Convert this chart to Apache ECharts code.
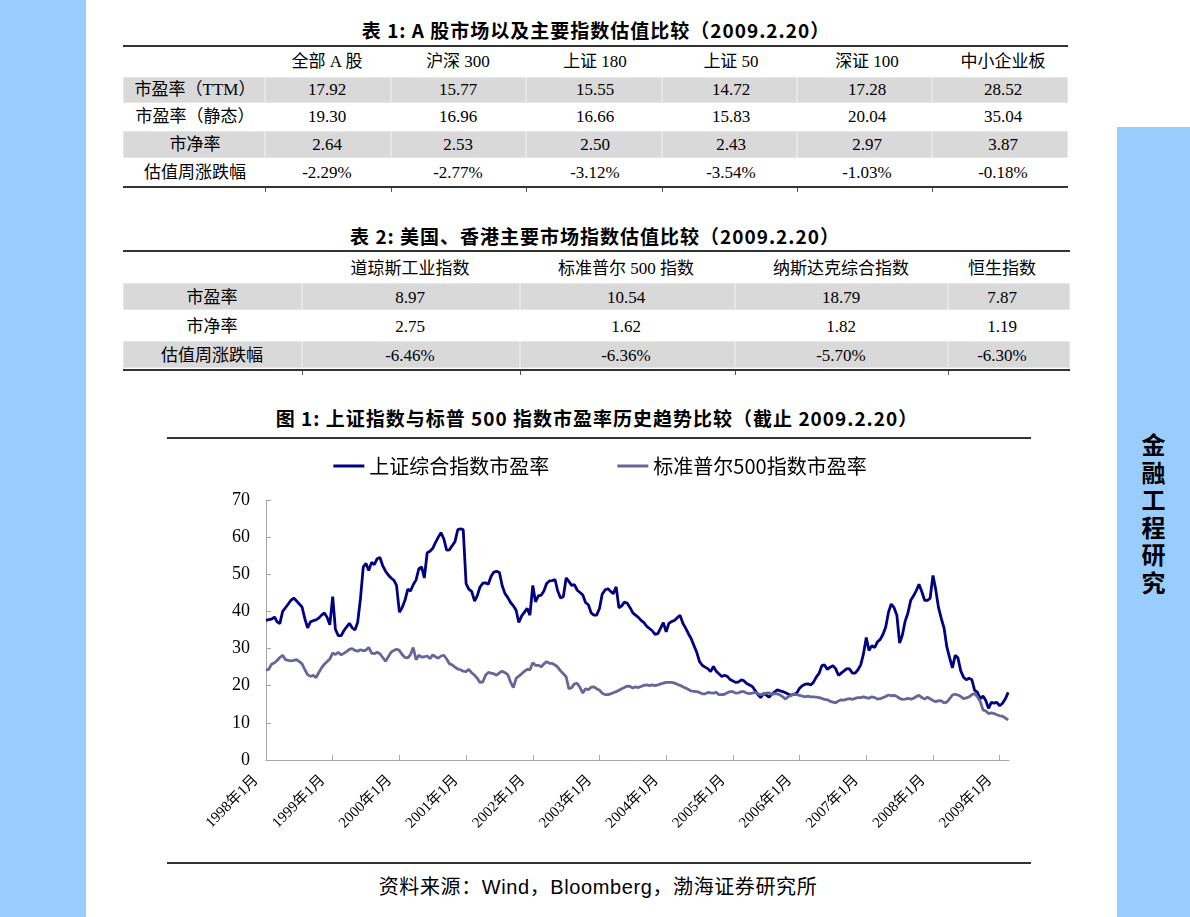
<!DOCTYPE html>
<html>
<head>
<meta charset="utf-8">
<script src="https://cdn.jsdelivr.net/npm/echarts@6/dist/echarts.min.js"></script>
<style>
html,body{margin:0;padding:0;background:#fff;}
#page{position:relative;width:1190px;height:917px;overflow:hidden;font-family:"Liberation Serif","Noto Sans CJK SC",serif;color:#000;}
.bar{position:absolute;background:#99CCFF;}
.title{position:absolute;white-space:nowrap;font-family:"Noto Sans CJK SC",sans-serif;font-weight:bold;font-size:19px;letter-spacing:1px;line-height:24px;transform:translate(-50%,-50%);}
.rule{position:absolute;height:2px;background:#333;}
.thin{position:absolute;height:1px;background:#222;}
.tick{position:absolute;width:1px;height:4px;background:#555;}
.cell{position:absolute;white-space:nowrap;font-size:17px;line-height:20px;transform:translate(-50%,-50%);}
.gray{position:absolute;background:#D9D9D9;box-shadow:inset 0 0 0 1px #E6E6E6;}
#chart{position:absolute;left:166px;top:440px;width:868px;height:424px;}
</style>
</head>
<body>
<div id="page">
  <div class="bar" style="left:0;top:0;width:86px;height:917px;"></div>
  <div class="bar" style="left:1117px;top:127px;width:73px;height:790px;"></div>
  <div id="side" style="position:absolute;left:1117px;top:430px;width:73px;text-align:center;font-family:'Noto Sans CJK SC';font-weight:bold;font-size:24px;line-height:27.5px;"></div>
  <div id="chart"></div>
</div>
<script>
// ---------- Table data ----------
const table1Title = '表 1: A 股市场以及主要指数估值比较（2009.2.20）';
const t1Cols = ['全部 A 股', '沪深 300', '上证 180', '上证 50', '深证 100', '中小企业板'];
const t1RowNames = ['市盈率（TTM）', '市盈率（静态）', '市净率', '估值周涨跌幅'];
const t1PeTtm = ['17.92', '15.77', '15.55', '14.72', '17.28', '28.52'];
const t1PeStatic = ['19.30', '16.96', '16.66', '15.83', '20.04', '35.04'];
const t1Pb = ['2.64', '2.53', '2.50', '2.43', '2.97', '3.87'];
const t1WeekChg = ['-2.29%', '-2.77%', '-3.12%', '-3.54%', '-1.03%', '-0.18%'];

const table2Title = '表 2: 美国、香港主要市场指数估值比较（2009.2.20）';
const t2Cols = ['道琼斯工业指数', '标准普尔 500 指数', '纳斯达克综合指数', '恒生指数'];
const t2RowNames = ['市盈率', '市净率', '估值周涨跌幅'];
const t2Pe = ['8.97', '10.54', '18.79', '7.87'];
const t2Pb = ['2.75', '1.62', '1.82', '1.19'];
const t2WeekChg = ['-6.46%', '-6.36%', '-5.70%', '-6.30%'];

const figTitle = '图 1: 上证指数与标普 500 指数市盈率历史趋势比较（截止 2009.2.20）';
const sourceText = '资料来源：<span style="font-family:\'Liberation Sans\',sans-serif">Wind</span>，<span style="font-family:\'Liberation Sans\',sans-serif">Bloomberg</span>，渤海证券研究所';
const sideText = ['金', '融', '工', '程', '研', '究'];

// ---------- Chart data (semi-monthly P/E readings, Jan 1998 - Feb 2009) ----------
const seriesNames = ['上证综合指数市盈率', '标准普尔500指数市盈率'];
const ssePE = [
  37.6, 37.8, 37.9, 38.5, 37.2, 36.7, 40.0, 41.0, 42.0, 43.0,
  43.6, 42.8, 42.0, 41.2, 38.0, 35.6, 37.2, 37.5, 37.7, 38.2,
  39.0, 39.6, 38.4, 36.4, 44.0, 35.2, 33.5, 33.5, 34.8, 35.8,
  36.8, 35.6, 35.0, 37.0, 43.5, 52.0, 52.9, 51.0, 53.2, 52.6,
  54.2, 54.5, 52.3, 50.9, 49.8, 49.0, 48.4, 47.0, 39.8, 41.0,
  43.0, 46.0, 45.5, 47.2, 48.5, 51.5, 52.0, 49.0, 55.8, 56.2,
  57.0, 58.5, 60.0, 61.2, 59.5, 56.5, 56.6, 57.7, 58.8, 62.0,
  62.2, 62.0, 47.5, 46.0, 45.4, 42.8, 44.2, 46.5, 47.6, 47.7,
  47.3, 49.4, 50.6, 50.8, 50.5, 47.0, 44.8, 43.8, 42.4, 41.5,
  40.3, 37.0, 38.8, 39.8, 40.8, 39.0, 47.0, 42.6, 44.2, 44.4,
  45.5, 47.5, 48.2, 48.3, 48.6, 45.5, 43.6, 44.0, 49.0, 48.1,
  47.0, 47.2, 45.7, 45.1, 44.4, 42.4, 41.8, 39.6, 39.0, 39.0,
  40.8, 44.6, 45.8, 46.1, 45.4, 44.8, 46.6, 41.0, 41.5, 42.5,
  42.2, 41.0, 39.6, 39.0, 38.4, 37.6, 37.0, 36.0, 35.4, 34.8,
  33.8, 34.0, 35.5, 37.0, 34.5, 36.8, 37.3, 37.6, 38.3, 39.0,
  36.8, 35.5, 34.0, 32.7, 30.8, 29.0, 26.5, 25.5, 25.0, 24.6,
  23.8, 25.2, 23.9, 23.2, 22.5, 22.8, 22.5, 21.7, 21.3, 20.9,
  21.0, 21.6, 21.3, 20.6, 20.2, 19.8, 18.7, 17.6, 16.8, 17.9,
  17.5, 16.9, 17.7, 18.3, 18.9, 18.6, 18.4, 18.1, 17.7, 17.5,
  17.7, 18.0, 19.3, 20.0, 20.4, 20.5, 20.2, 20.9, 22.3, 23.3,
  25.4, 25.6, 24.4, 25.0, 25.4, 24.6, 22.8, 23.4, 24.0, 24.6,
  24.5, 23.4, 23.4, 24.3, 25.6, 28.5, 33.0, 29.5, 30.8, 30.3,
  31.8, 32.4, 33.8, 35.8, 39.8, 42.0, 41.0, 39.0, 31.5, 33.6,
  37.4, 39.5, 43.0, 44.2, 45.6, 47.3, 45.3, 43.0, 43.0, 43.5,
  49.7, 46.0, 41.0, 38.0, 35.5, 30.5, 27.5, 24.8, 28.2, 27.5,
  24.0, 22.3, 21.6, 22.0, 21.6, 18.8, 18.2, 16.5, 17.2, 16.1,
  13.9, 15.5, 15.3, 15.5, 14.6, 15.2, 16.4, 18.2
];
const spxPE = [
  24.2, 24.4, 25.8, 26.2, 26.8, 27.6, 28.2, 27.0, 26.8, 26.7,
  26.8, 27.0, 26.5, 25.9, 24.3, 23.0, 22.5, 22.8, 22.2, 23.5,
  24.8, 25.8, 26.5, 27.2, 28.8, 28.4, 29.0, 28.3, 28.7, 29.2,
  29.8, 30.0, 29.5, 29.3, 29.7, 29.4, 29.6, 30.3, 28.8, 28.6,
  29.0, 28.6, 27.6, 26.6, 27.8, 29.0, 29.5, 29.8, 29.5, 28.4,
  27.6, 27.5, 28.4, 30.3, 27.0, 28.2, 27.7, 27.8, 28.0, 27.3,
  28.3, 27.8, 27.4, 28.0, 28.2, 27.2, 25.9, 25.6, 25.0, 24.5,
  24.3, 23.9, 23.8, 24.4, 23.5, 22.8, 22.0, 20.9, 21.0, 22.8,
  23.6, 23.4, 23.2, 22.8, 23.5, 23.9, 23.5, 23.0, 21.0, 19.5,
  22.0, 22.6, 23.2, 23.9, 24.4, 24.3, 26.2, 25.5, 25.5, 25.1,
  25.9, 26.5, 26.0, 26.0, 25.6, 25.0, 24.0, 23.2, 22.4, 19.2,
  19.5, 20.5, 20.6, 19.5, 18.0, 19.2, 18.9, 19.6, 19.7, 19.2,
  18.8, 18.0, 17.6, 17.6, 17.8, 18.1, 18.4, 18.8, 19.2, 19.5,
  19.9, 19.8, 19.4, 19.7, 19.5, 19.8, 20.1, 20.2, 20.0, 20.2,
  20.0, 20.2, 20.5, 20.7, 20.9, 20.9, 20.9, 20.7, 20.4, 20.1,
  19.7, 19.4, 19.0, 18.6, 18.5, 18.4, 18.2, 17.8, 17.8, 18.2,
  18.1, 18.0, 18.2, 17.6, 17.6, 17.7, 18.1, 18.4, 18.4, 18.0,
  18.1, 18.4, 18.4, 18.0, 17.9, 18.0, 18.2, 17.8, 17.6, 17.8,
  18.0, 18.1, 17.6, 17.9, 17.8, 17.5, 17.0, 16.4, 17.1, 17.4,
  17.7, 17.6, 17.4, 17.2, 17.0, 17.2, 17.0, 17.0, 16.9, 16.8,
  16.6, 16.3, 16.2, 15.8, 15.6, 15.4, 15.9, 16.2, 16.1, 16.4,
  16.5, 16.3, 16.6, 16.8, 16.8, 17.0, 16.8, 16.6, 17.0, 16.8,
  16.4, 16.5, 16.8, 17.1, 17.5, 17.3, 17.4, 17.1, 16.6, 16.3,
  16.4, 16.6, 16.4, 16.6, 17.1, 17.4, 16.8, 16.4, 16.9, 16.5,
  16.0, 15.7, 16.0, 15.9, 15.4, 15.6, 16.5, 17.5, 17.7, 17.5,
  17.1, 16.5, 16.7, 17.0, 17.6, 17.9, 17.0, 15.8, 13.5, 13.2,
  12.5, 12.7, 12.5, 12.2, 11.9, 11.8, 11.3, 10.8
];
const tickYears = [1998, 1999, 2000, 2001, 2002, 2003, 2004, 2005, 2006, 2007, 2008, 2009];
const tickLabels = tickYears.map(y => y + '年1月');
const yTicks = [0, 10, 20, 30, 40, 50, 60, 70];
const endDate = '2009-02-20';

// observation dates: 1st and 16th of each month
const dates = [];
for (let y = 1998; dates.length < ssePE.length; y++) {
  for (let m = 1; m <= 12 && dates.length < ssePE.length; m++) {
    for (const d of [1, 16]) {
      if (dates.length < ssePE.length) dates.push(y + '-' + String(m).padStart(2, '0') + '-' + String(d).padStart(2, '0'));
    }
  }
}
function toYear(s) {
  const [y, m, d] = s.split('-').map(Number);
  const dim = new Date(y, m, 0).getDate();
  return y + (m - 1) / 12 + (d - 1) / dim / 12;
}

// ---------- Page layout ----------
const page = document.getElementById('page');
function el(cls, style, html) {
  const e = document.createElement('div');
  e.className = cls;
  Object.assign(e.style, style);
  if (html !== undefined) e.innerHTML = html;
  page.insertBefore(e, document.getElementById('chart'));
  return e;
}
function px(v) { return v + 'px'; }

function drawTable(cfg) {
  el('title', { left: px(cfg.titleX), top: px(cfg.titleY) }, cfg.title);
  cfg.grayRows.forEach(([y0, y1]) => {
    for (let c = 0; c < cfg.bounds.length - 1; c++) {
      el('gray', { left: px(cfg.bounds[c]), top: px(y0), width: px(cfg.bounds[c + 1] - cfg.bounds[c]), height: px(y1 - y0) });
    }
  });
  el('rule', { left: px(cfg.bounds[0]), top: px(cfg.topY), width: px(cfg.bounds[cfg.bounds.length - 1] - cfg.bounds[0]) });
  el('rule', { left: px(cfg.bounds[0]), top: px(cfg.bottomY), width: px(cfg.bounds[cfg.bounds.length - 1] - cfg.bounds[0]) });
  for (let c = 1; c < cfg.bounds.length - 1; c++) {
    el('tick', { left: px(cfg.bounds[c]), top: px(cfg.bottomY + 2) });
  }
  cfg.cols.forEach((t, i) => el('cell', { left: px(cfg.centers[i + 1]), top: px(cfg.headerY) }, t));
  cfg.rowNames.forEach((name, r) => {
    el('cell', { left: px(cfg.centers[0]), top: px(cfg.rowY[r]) }, name);
    cfg.rows[r].forEach((v, i) => el('cell', { left: px(cfg.centers[i + 1]), top: px(cfg.rowY[r]) }, v));
  });
}

drawTable({
  title: table1Title, titleX: 596, titleY: 30,
  bounds: [123, 265, 391, 526, 662, 797, 932, 1068],
  centers: [195, 327, 458, 595, 731, 867, 1003],
  topY: 45, bottomY: 186, headerY: 62,
  rowY: [90, 117, 145, 173],
  grayRows: [[77, 103], [131, 158]],
  cols: t1Cols, rowNames: t1RowNames,
  rows: [t1PeTtm, t1PeStatic, t1Pb, t1WeekChg]
});
drawTable({
  title: table2Title, titleX: 595, titleY: 236,
  bounds: [123, 302, 520, 735, 948, 1070],
  centers: [212, 410, 626, 841, 1002],
  topY: 250, bottomY: 369, headerY: 269,
  rowY: [298, 327, 356],
  grayRows: [[283, 310], [341, 368]],
  cols: t2Cols, rowNames: t2RowNames,
  rows: [t2Pe, t2Pb, t2WeekChg]
});

el('title', { left: px(597), top: px(418) }, figTitle);
el('thin', { left: px(167), top: px(437), width: px(864), height: '2px', background: '#333' });
el('thin', { left: px(167), top: px(862), width: px(864), height: '2px', background: '#333' });
el('cell', { left: px(598), top: px(887), fontSize: '20px', lineHeight: '24px', letterSpacing: '0.6px' }, sourceText);
document.getElementById('side').innerHTML = sideText.join('<br>');

// ---------- Chart ----------
const chart = echarts.init(document.getElementById('chart'), null, { renderer: 'canvas' });
const xMax = toYear(endDate);
const axisGray = '#A6A6A6';
const colors = ['#000080', '#666699'];
chart.setOption({
  animation: false,
  backgroundColor: 'transparent',
  textStyle: { fontFamily: 'Liberation Serif, Noto Sans CJK SC, serif', color: '#000' },
  legend: {
    top: 11, left: 'center',
    icon: 'rect',
    itemWidth: 31, itemHeight: 3, itemGap: 68,
    textStyle: { fontSize: 20, fontFamily: 'Noto Sans CJK SC', color: '#000' },
    data: seriesNames
  },
  grid: { left: 100, right: 25, top: 60, bottom: 104, containLabel: false },
  xAxis: {
    type: 'value', min: tickYears[0], max: xMax, interval: 1,
    axisLine: { show: true, lineStyle: { color: axisGray, width: 1 } },
    axisTick: { show: true, inside: true, length: 5, lineStyle: { color: axisGray }, customValues: tickYears },
    splitLine: { show: false },
    axisLabel: {
      rotate: 45, fontSize: 15, margin: 8, color: '#000',
      padding: [0, 14, 0, 0],
      fontFamily: 'Liberation Serif, Noto Sans CJK SC, serif',
      customValues: tickYears,
      formatter: v => { const i = tickYears.indexOf(Math.round(v)); return Math.abs(v - Math.round(v)) < 1e-6 && i >= 0 ? tickLabels[i] : ''; }
    }
  },
  yAxis: {
    type: 'value', min: yTicks[0], max: yTicks[yTicks.length - 1], interval: 10,
    axisLine: { show: true, lineStyle: { color: axisGray, width: 1 } },
    axisTick: { show: true, inside: true, length: 5, lineStyle: { color: axisGray } },
    splitLine: { show: false },
    axisLabel: { fontSize: 18, margin: 16, color: '#000', fontFamily: 'Liberation Serif, serif' }
  },
  series: [
    {
      name: seriesNames[0], type: 'line', symbol: 'none', smooth: false,
      lineStyle: { color: colors[0], width: 2.8 }, itemStyle: { color: colors[0] },
      data: dates.map((d, i) => [toYear(d), ssePE[i]])
    },
    {
      name: seriesNames[1], type: 'line', symbol: 'none', smooth: false,
      lineStyle: { color: colors[1], width: 2.8 }, itemStyle: { color: colors[1] },
      data: dates.map((d, i) => [toYear(d), spxPE[i]])
    }
  ]
});
</script>
</body>
</html>
